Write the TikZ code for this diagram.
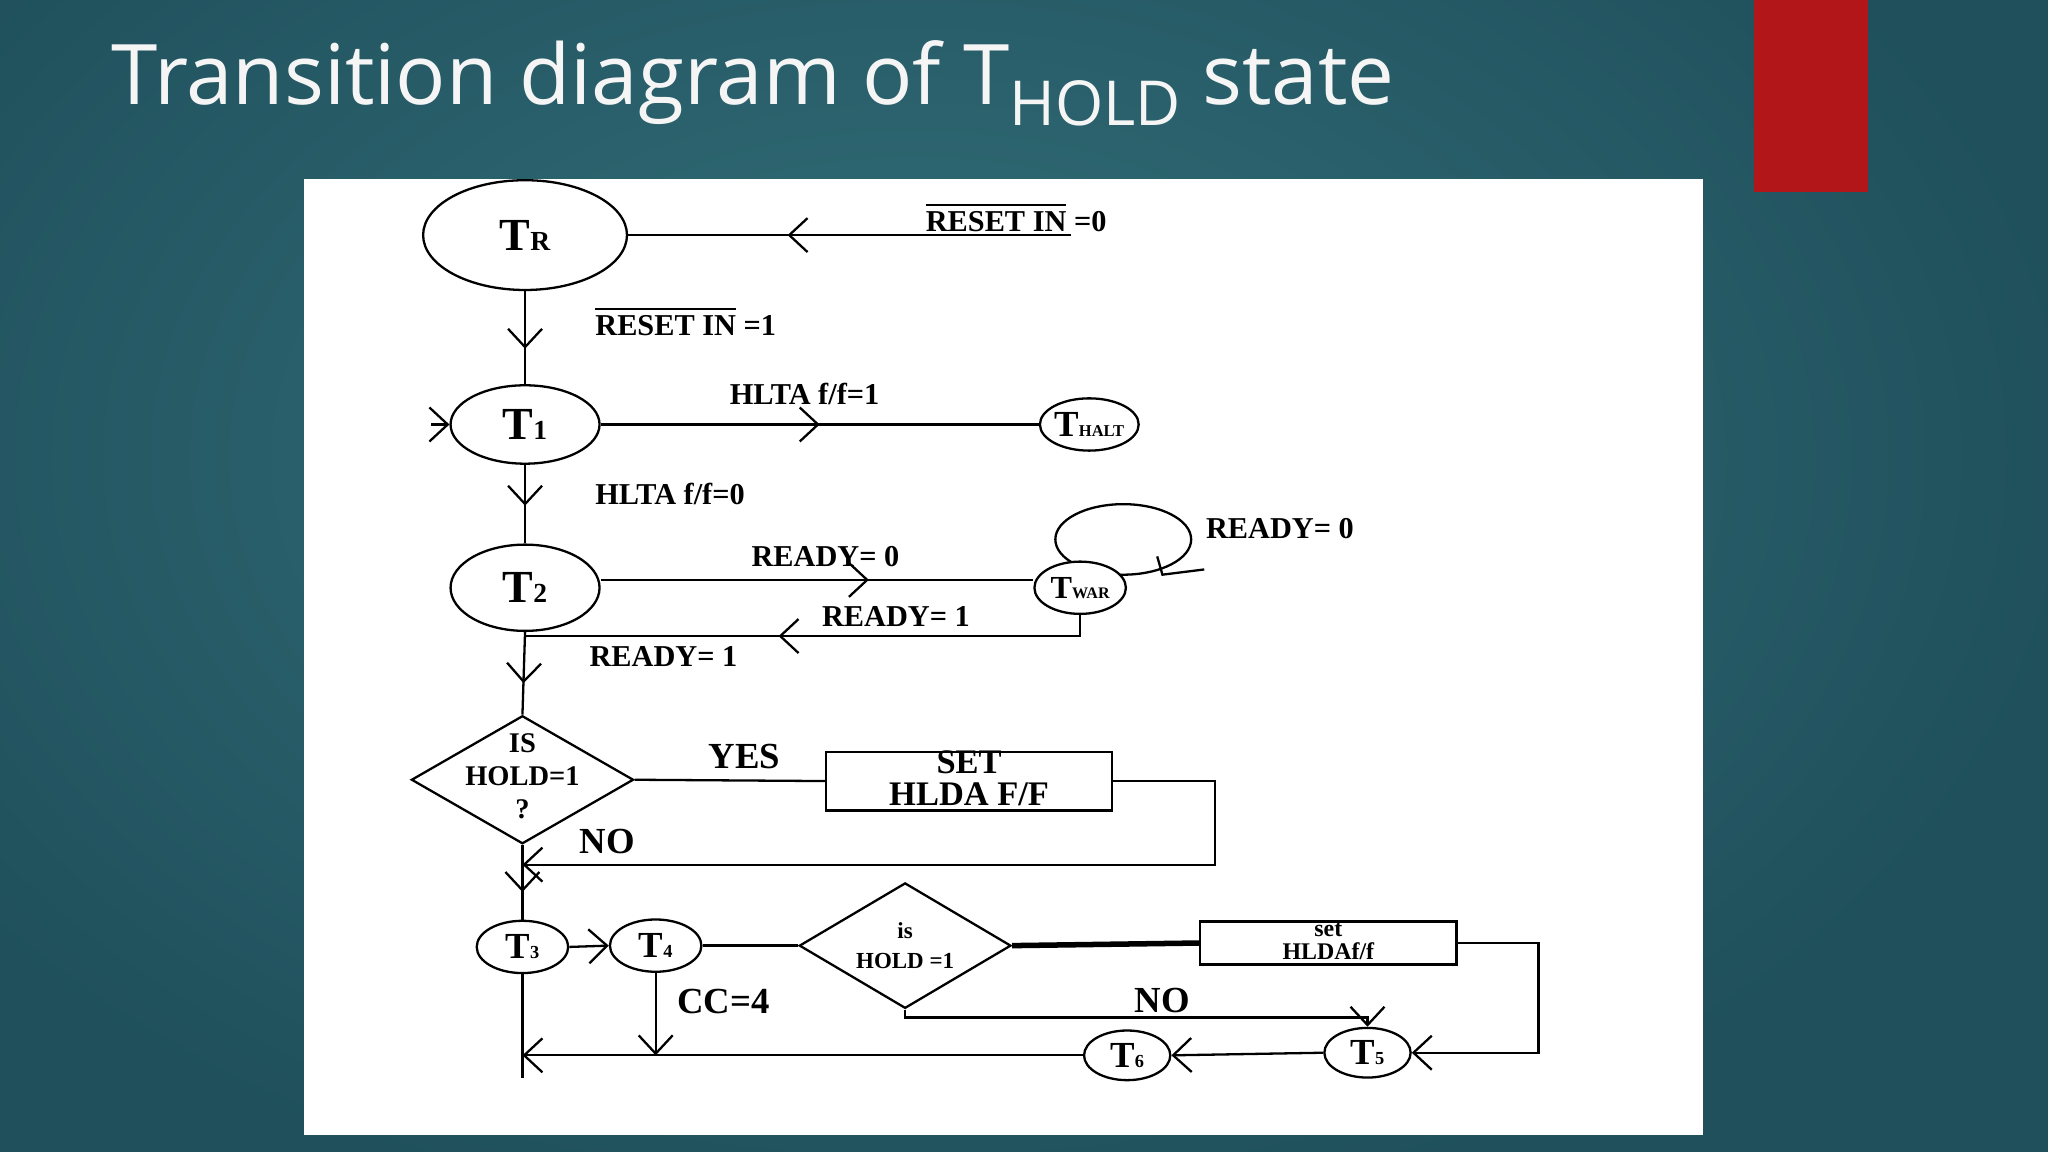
\documentclass[tikz,border=0pt]{standalone}
\usepackage{fontspec}
\setmainfont{Liberation Serif}
\newfontfamily\titlefont{Open Sans}
\usetikzlibrary{shapes.geometric,arrows.meta,decorations.markings}
\tikzset{
 ln/.style={line width=0.5pt,black},
 barb/.tip={Straight Barb[length=1.4mm,width=2.6mm,line width=0.5pt]},
 mid/.style={postaction={decorate,decoration={markings,mark=at position #1 with {\arrow{barb}}}}},
 st/.style={draw,ln,ellipse,fill=white,inner sep=0pt,font=\bfseries},
 dia/.style={draw,ln,diamond,inner sep=0pt,fill=white,font=\bfseries},
 bx/.style={draw,ln,rectangle,fill=white,inner sep=0pt,font=\bfseries},
 lb/.style={font=\bfseries\fontsize{6.6}{7}\selectfont,inner sep=0pt}
}
\newcommand{\Tl}[3]{{\fontsize{#1}{#1}\selectfont T}{\fontsize{#2}{#2}\selectfont #3}}
\newcommand{\Stk}[4]{\makebox[0pt]{\raisebox{#4}[0pt][0pt]{\fontsize{#1}{#2}\selectfont\begin{tabular}[c]{@{}c@{}}#3\end{tabular}}}}
\begin{document}
\begin{tikzpicture}[x=0.01cm,y=-0.01cm]
\useasboundingbox (0,0) rectangle (1568,882);
\fill[fill={rgb,255:red,31;green,80;blue,92}] (0,0) rectangle (1568,882);
\shade[inner color={rgb,255:red,52;green,112;blue,122},outer color={rgb,255:red,31;green,80;blue,92}] (700,350) ellipse (900 and 600);
\fill[fill={rgb,255:red,178;green,22;blue,24}] (1343,0) rectangle (1430,147);
\node[anchor=base west,inner sep=0pt,text=white!92!gray,font=\titlefont\fontsize{18.2}{20}\selectfont] (title) at (85,80) {Transition diagram of T\raisebox{-4.5pt}{\fontsize{13.5}{14}\selectfont HOLD} state};
\fill[white] (233,137) rectangle (1304,869);
% states
\node[st,minimum width=1.56cm,minimum height=0.84cm] (TR) at (402,180) {\Tl{10}{6}{R}};
\node[st,minimum width=1.14cm,minimum height=0.6cm] (T1) at (402,325) {\Tl{10}{6}{1}};
\node[st,minimum width=0.74cm,minimum height=0.4cm] (TH) at (834,325) {\Tl{8}{3.6}{HALT}};
\node[st,minimum width=1.14cm,minimum height=0.66cm] (T2) at (402,450) {\Tl{10}{6}{2}};
\draw[ln] (860,413) ellipse (52 and 27);
\node[st,minimum width=0.7cm,minimum height=0.4cm] (TW) at (827,450) {\Tl{7}{3.5}{WAR}};
\draw[ln] (886,426) -- (890,440) -- (922,436);
\node[dia,minimum width=1.7cm,minimum height=0.98cm] (D1) at (400,597) {\Stk{6.2}{7.2}{IS\\HOLD=1\\?}{-1.4pt}};
\node[bx,minimum width=2.19cm,minimum height=0.45cm] (B1) at (742,598) {\Stk{7.5}{7}{SET\\HLDA F/F}{-2.2pt}};
\node[st,minimum width=0.7cm,minimum height=0.4cm] (T3) at (400,725) {\Tl{8}{4}{3}};
\node[st,minimum width=0.7cm,minimum height=0.4cm] (T4) at (502,724) {\Tl{8}{4}{4}};
\node[dia,minimum width=1.62cm,minimum height=0.96cm] (D2) at (693,724) {\Stk{5}{6.5}{is\\HOLD =1}{-1.6pt}};
\node[bx,minimum width=1.96cm,minimum height=0.33cm] (B2) at (1017,722) {\Stk{5.2}{4.3}{set\\HLDAf/f}{-1.4pt}};
\node[st,minimum width=0.66cm,minimum height=0.38cm] (T5) at (1047,806) {\Tl{8}{4}{5}};
\node[st,minimum width=0.66cm,minimum height=0.38cm] (T6) at (863,808) {\Tl{8}{4}{6}};
% coordinates
\coordinate (rin) at (820,180);
\coordinate (tin) at (330,325);
\coordinate (r1) at (402,487);
\coordinate (c1) at (930,598);
\coordinate (n1) at (400,662);
\coordinate (c2) at (1178,722);
\coordinate (c3) at (693,779);
\coordinate (b3) at (400,808);
\coordinate (e3) at (400,825);
% connectors
\draw[ln,mid=0.64] (rin) -- (TR.east);
\draw[ln,mid=0.62] (TR.south) -- (T1.north);
\draw[ln,-barb] (tin) -- (T1.west);
\draw[ln,mid=0.5] (T1.east) -- (TH.west);
\draw[ln,mid=0.52] (T1.south) -- (T2.north);
\draw[ln,mid=0.62] (T2.east |- 0,444) -- (TW.west |- 0,444);
\draw[ln,mid=0.56] (TW.south) |- (r1);
\draw[ln,mid=0.62] (T2.south) -- (D1.north);
\draw[ln] (D1.east) -- (B1.west);
\draw[ln,-barb] (B1.east) -- (c1) |- (n1);
\draw[ln,mid=0.63] (D1.south) -- (T3.north);
\draw[ln,-barb] (T3.east) -- (T4.west);
\draw[ln] (T4.east) -- (D2.west);
\draw[line width=1.2pt] (D2.east) -- (B2.west);
\draw[ln,-barb] (B2.east) -- (c2) |- (T5.east);
\draw[ln,-barb] (D2.south) -- (c3) -| (T5.north);
\draw[ln,-barb] (T5.west) -- (T6.east);
\draw[ln,-barb] (T6.west) -- (b3);
\draw[ln] (T3.south) -- (e3);
\draw[ln,-barb] (T4.south) -- (T4.south |- b3);
% labels
\node[lb] (l1) at (778,166) {$\overline{\mbox{RESET IN}}$ =0};
\node[lb] (l2) at (525,246) {$\overline{\mbox{RESET IN}}$ =1};
\node[lb] (l3) at (616,302) {HLTA f/f=1};
\node[lb] (l4) at (513,378) {HLTA f/f=0};
\node[lb] (l5) at (632,426) {READY= 0};
\node[lb] (l6) at (980,405) {READY= 0};
\node[lb] (l7) at (686,472) {READY= 1};
\node[lb] (l8) at (508,503) {READY= 1};
\node[lb,font=\bfseries\fontsize{8}{9}\selectfont] (l9) at (570,579) {YES};
\node[lb,font=\bfseries\fontsize{8}{9}\selectfont] (l10) at (465,644) {NO};
\node[lb,font=\bfseries\fontsize{8}{9}\selectfont] (l11) at (890,766) {NO};
\node[lb,font=\bfseries\fontsize{8}{9}\selectfont] (l12) at (554,767) {CC=4};
\end{tikzpicture}
\end{document}
